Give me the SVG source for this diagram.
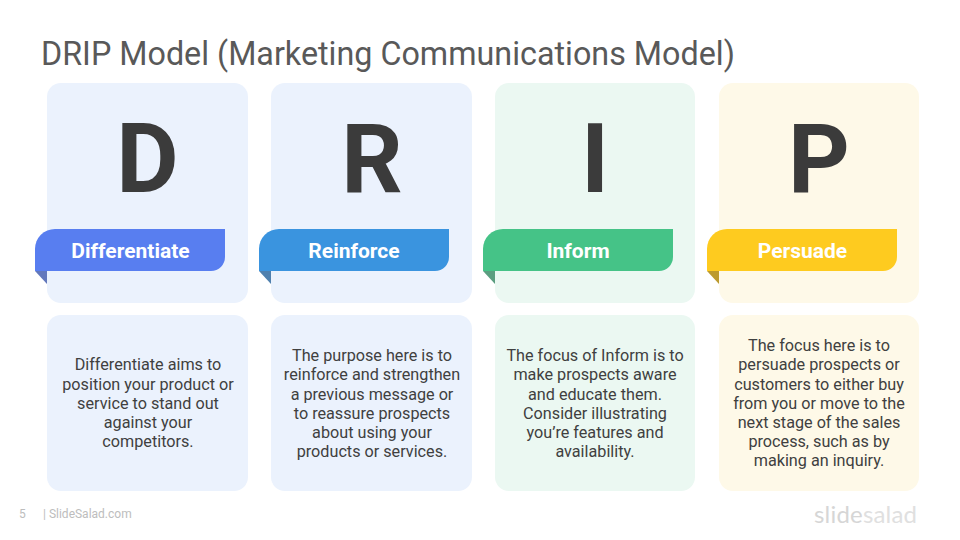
<svg xmlns="http://www.w3.org/2000/svg" width="960" height="540" viewBox="0 0 960 540">
<style>
text{font-family:Roboto,"Liberation Sans",sans-serif}
.title{font-size:32.300px;fill:#595959}
.big{font-size:96px;font-weight:700;fill:#3B3B3B;text-anchor:middle}
.lab{font-size:21px;font-weight:700;fill:#fff;text-anchor:middle}
.body{font-size:16.200px;fill:#404040;text-anchor:middle}
.foot{font-size:12px;fill:#BDBDBD}
.blue{fill:#EBF2FD}
.green{fill:#EBF8F2}
.yellow{fill:#FEF9E8}
</style>
<rect width="960" height="540" fill="#fff"/>
<text class="title" x="41" y="65">DRIP Model (Marketing Communications Model)</text>
<g id="node-d">
<rect class="blue" x="47" y="83" width="201" height="220" rx="14"/>
<rect class="blue" x="47" y="315" width="201" height="176" rx="14"/>
<text class="big" x="147.500" y="192">D</text>
<path d="M35 271H47V284Z" fill="#6278BC"/>
<path d="M55 229H225V257A14 14 0 0 1 211 271H35V249A20 20 0 0 1 55 229Z" fill="#587EF0"/>
<text class="lab" x="130.500" y="258">Differentiate</text>
<text class="body"><tspan x="148" y="370">Differentiate aims to</tspan><tspan x="148" y="389.500">position your product or</tspan><tspan x="148" y="409">service to stand out</tspan><tspan x="148" y="428">against your</tspan><tspan x="148" y="447">competitors.</tspan></text>
</g>
<g id="node-r">
<rect class="blue" x="271" y="83" width="201" height="220" rx="14"/>
<rect class="blue" x="271" y="315" width="201" height="176" rx="14"/>
<text class="big" x="372" y="192">R</text>
<path d="M259 271H271V284Z" fill="#4F80AE"/>
<path d="M279 229H449V257A14 14 0 0 1 435 271H259V249A20 20 0 0 1 279 229Z" fill="#3A94DF"/>
<text class="lab" x="354" y="258">Reinforce</text>
<text class="body"><tspan x="372" y="361">The purpose here is to</tspan><tspan x="372" y="380">reinforce and strengthen</tspan><tspan x="372" y="399.500">a previous message or</tspan><tspan x="372" y="419">to reassure prospects</tspan><tspan x="372" y="438">about using your</tspan><tspan x="372" y="457">products or services.</tspan></text>
</g>
<g id="node-i">
<rect class="green" x="495" y="83" width="200" height="220" rx="14"/>
<rect class="green" x="495" y="315" width="200" height="176" rx="14"/>
<text class="big" x="595" y="192">I</text>
<path d="M483 271H495V284Z" fill="#5B9E80"/>
<path d="M503 229H673V257A14 14 0 0 1 659 271H483V249A20 20 0 0 1 503 229Z" fill="#45C387"/>
<text class="lab" x="578" y="258">Inform</text>
<text class="body"><tspan x="595" y="361">The focus of Inform is to</tspan><tspan x="595" y="380">make prospects aware</tspan><tspan x="595" y="399.500">and educate them.</tspan><tspan x="595" y="419">Consider illustrating</tspan><tspan x="595" y="438">you’re features and</tspan><tspan x="595" y="457">availability.</tspan></text>
</g>
<g id="node-p">
<rect class="yellow" x="719" y="83" width="200" height="220" rx="14"/>
<rect class="yellow" x="719" y="315" width="200" height="176" rx="14"/>
<text class="big" x="819" y="192">P</text>
<path d="M707 271H719V284Z" fill="#BC9A2E"/>
<path d="M727 229H897V257A14 14 0 0 1 883 271H707V249A20 20 0 0 1 727 229Z" fill="#FECB1F"/>
<text class="lab" x="802.500" y="258">Persuade</text>
<text class="body"><tspan x="819" y="351">The focus here is to</tspan><tspan x="819" y="370">persuade prospects or</tspan><tspan x="819" y="389.500">customers to either buy</tspan><tspan x="819" y="409">from you or move to the</tspan><tspan x="819" y="428">next stage of the sales</tspan><tspan x="819" y="447">process, such as by</tspan><tspan x="819" y="466">making an inquiry.</tspan></text>
</g>
<g id="connectors"></g>
<text class="foot" x="19" y="518">5</text>
<text class="foot" x="43" y="518">| SlideSalad.com</text>
<text x="814" y="523" textLength="103" style="font-family:Lato,'Noto Sans',sans-serif;font-size:24px;font-weight:400;fill:#D6D6D6">slide<tspan fill="#E0E0E0">salad</tspan></text>
</svg>
